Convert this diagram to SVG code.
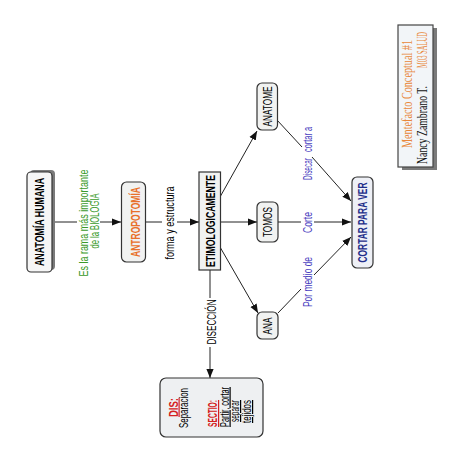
<svg xmlns="http://www.w3.org/2000/svg" width="452" height="452" viewBox="0 0 452 452">
<defs>
<marker id="arr" viewBox="0 0 10 10" refX="10" refY="5" markerWidth="9" markerHeight="9" markerUnits="userSpaceOnUse" orient="auto"><path d="M0,1 L10,5 L0,9 z" fill="#111"/></marker>
<style>
.t{font-family:"Liberation Sans Narrow","Liberation Sans",Arial,sans-serif;font-size:12px;text-anchor:middle}
.b{font-weight:bold}
.box{fill:#f1f2f1;stroke:#333;stroke-width:1.2}
.shadow{fill:#7a7a7a}
.ln{stroke:#222;stroke-width:1;fill:none}
.blue{fill:#4a40c0}
.green{fill:#3a9a2a}
.red{fill:#d42020}
.ser{font-family:"Liberation Serif","Times New Roman",serif;font-size:14px;text-anchor:middle}
</style>
</defs>
<rect width="452" height="452" fill="#fff"/>

<g id="connectors">
<line class="ln" x1="52" y1="222" x2="77" y2="222"/>
<line class="ln" x1="100" y1="222" x2="121" y2="222" marker-end="url(#arr)"/>
<line class="ln" x1="146" y1="222" x2="162" y2="222"/>
<line class="ln" x1="177" y1="222" x2="199" y2="222" marker-end="url(#arr)"/>
<line class="ln" x1="220" y1="197" x2="257" y2="131" marker-end="url(#arr)"/>
<line class="ln" x1="220" y1="222" x2="257" y2="222" marker-end="url(#arr)"/>
<line class="ln" x1="220" y1="247" x2="258" y2="313" marker-end="url(#arr)"/>
<line class="ln" x1="210" y1="270" x2="210" y2="298"/>
<line class="ln" x1="210" y1="347" x2="210" y2="378" marker-end="url(#arr)"/>
<line class="ln" x1="277" y1="120" x2="302" y2="147"/>
<line class="ln" x1="312" y1="157" x2="351" y2="201" marker-end="url(#arr)"/>
<line class="ln" x1="278" y1="222" x2="301" y2="222"/>
<line class="ln" x1="314" y1="222" x2="351" y2="222" marker-end="url(#arr)"/>
<line class="ln" x1="278" y1="313" x2="301" y2="289"/>
<line class="ln" x1="314" y1="275" x2="351" y2="237" marker-end="url(#arr)"/>
<text class="t green" transform="translate(87.5,223) rotate(-90)" textLength="107" lengthAdjust="spacingAndGlyphs">Es la rama más importante</text>
<text class="t green" transform="translate(99,221) rotate(-90)" textLength="55" lengthAdjust="spacingAndGlyphs">de la BIOLOGIA</text>
<text class="t" transform="translate(173.5,223) rotate(-90)" textLength="73" lengthAdjust="spacingAndGlyphs">forma y estructura</text>
<text class="t" font-size="11" transform="translate(216,322) rotate(-90)" textLength="45" lengthAdjust="spacingAndGlyphs">DISECCIÓN</text>
<text class="t blue" transform="translate(311.5,169) rotate(-90)" textLength="22" lengthAdjust="spacingAndGlyphs">Disecar</text>
<text class="t blue" transform="translate(311.5,139.5) rotate(-90)" textLength="25" lengthAdjust="spacingAndGlyphs">cortar a</text>
<text class="t blue" transform="translate(311.5,222.5) rotate(-90)" textLength="21" lengthAdjust="spacingAndGlyphs">Corte</text>
<text class="t blue" transform="translate(311.5,282) rotate(-90)" textLength="50" lengthAdjust="spacingAndGlyphs">Por medio de</text>
</g>

<g id="anatomia-humana">
<rect class="shadow" x="30" y="170" width="25" height="100" rx="4"/>
<rect class="box" x="27" y="172" width="25" height="100" rx="4" style="fill:#f6f6f6"/>
<text class="t b" transform="translate(44,222) rotate(-90)" textLength="88" lengthAdjust="spacingAndGlyphs">ANATOMÍA HUMANA</text>
</g>

<g id="antropotomia">
<rect class="box" x="121.5" y="182" width="24" height="80" rx="5"/>
<text class="t b" fill="#e8702a" transform="translate(140,222) rotate(-90)" textLength="70" lengthAdjust="spacingAndGlyphs">ANTROPOTOMÍA</text>
</g>

<g id="etimologicamente">
<rect class="box" x="199" y="172" width="21.5" height="98"/>
<text class="t b" transform="translate(214.5,221) rotate(-90)" textLength="92" lengthAdjust="spacingAndGlyphs">ETIMOLOGICAMENTE</text>
</g>

<g id="anatome">
<rect class="box" x="257" y="83" width="20.5" height="47" rx="5"/>
<text class="t" transform="translate(271.5,106.5) rotate(-90)" textLength="40" lengthAdjust="spacingAndGlyphs">ANATOME</text>
</g>

<g id="tomos">
<rect class="box" x="257" y="202" width="21" height="40" rx="5"/>
<text class="t" transform="translate(271.5,222) rotate(-90)" textLength="30" lengthAdjust="spacingAndGlyphs">TOMOS</text>
</g>

<g id="ana">
<rect class="box" x="257" y="312" width="21" height="27" rx="5"/>
<text class="t" transform="translate(271.5,326) rotate(-90)" textLength="17" lengthAdjust="spacingAndGlyphs">ANA</text>
</g>

<g id="cortar-para-ver">
<rect class="box" x="352" y="177" width="21" height="91" rx="5" style="fill:#eef0f6"/>
<text class="t b" fill="#1f2f8a" transform="translate(367,222.5) rotate(-90)" textLength="80" lengthAdjust="spacingAndGlyphs">CORTAR PARA VER</text>
</g>

<g id="dis-sectio">
<rect class="box" x="160" y="378" width="103" height="59" rx="6" style="fill:#eef0f2"/>
<text class="t b red" text-decoration="underline" transform="translate(177.5,407.5) rotate(-90)" textLength="19" lengthAdjust="spacingAndGlyphs">DIS:</text>
<text class="t" transform="translate(188,408) rotate(-90)" textLength="40" lengthAdjust="spacingAndGlyphs">Separacion</text>
<text class="t b red" text-decoration="underline" transform="translate(217,413.5) rotate(-90)" textLength="27" lengthAdjust="spacingAndGlyphs">SECTIO:</text>
<text class="t" text-decoration="underline" transform="translate(228.5,407) rotate(-90)" textLength="40" lengthAdjust="spacingAndGlyphs">Partir, cortar</text>
<text class="t" text-decoration="underline" transform="translate(239,411) rotate(-90)" textLength="22" lengthAdjust="spacingAndGlyphs">separar</text>
<text class="t" text-decoration="underline" transform="translate(251,411.5) rotate(-90)" textLength="23" lengthAdjust="spacingAndGlyphs">tejidos</text>
</g>

<g id="title">
<rect class="shadow" x="402" y="28" width="35" height="142"/>
<rect x="398" y="25" width="35" height="142" fill="#f2f5f8" stroke="#444" stroke-width="1.2"/>
<text class="ser" fill="#e8873a" transform="translate(412,94) rotate(-90)" textLength="108" lengthAdjust="spacingAndGlyphs">Mentefacto Conceptual #1</text>
<text class="ser" fill="#111" transform="translate(426.5,125) rotate(-90)" textLength="78" lengthAdjust="spacingAndGlyphs">Nancy Zambrano T.</text>
<text class="ser" fill="#e8873a" text-anchor="end" style="text-anchor:end" transform="translate(426.5,32) rotate(-90)" textLength="36" lengthAdjust="spacingAndGlyphs">M03 SALUD</text>
</g>
</svg>
